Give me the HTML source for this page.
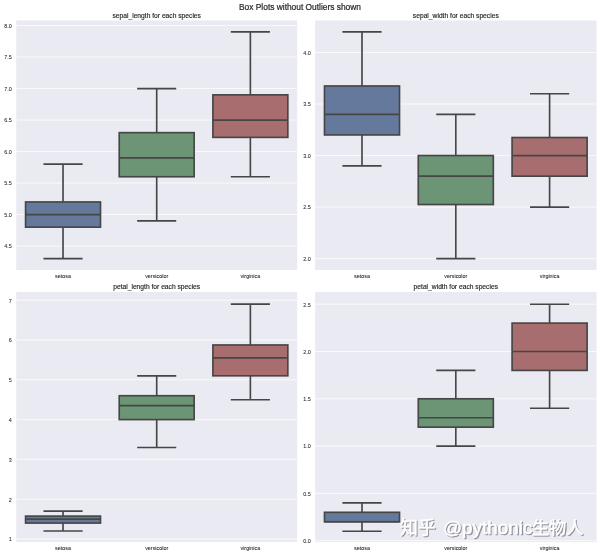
<!DOCTYPE html>
<html lang="en"><head><meta charset="utf-8"><title>Box Plots without Outliers shown</title>
<style>html,body{margin:0;padding:0;background:#fff;}svg{display:block;}</style></head>
<body>
<svg width="600" height="555" viewBox="0 0 600 555" font-family="'Liberation Sans', 'Noto Sans CJK SC', sans-serif">
<rect width="600" height="555" fill="#ffffff"/>
<text x="300" y="10" font-size="8.4" text-anchor="middle" fill="#262626" stroke="#262626" stroke-width="0.2">Box Plots without Outliers shown</text>
<g>
<rect x="16.20" y="20.50" width="281.00" height="249.50" fill="#eaeaf2"/>
<line x1="16.20" x2="297.20" y1="246.06" y2="246.06" stroke="#ffffff" stroke-width="0.75"/>
<text x="11.80" y="248.36" font-size="5.4" text-anchor="end" fill="#2a2a2a" stroke="#2a2a2a" stroke-width="0.07">4.5</text>
<line x1="16.20" x2="297.20" y1="214.56" y2="214.56" stroke="#ffffff" stroke-width="0.75"/>
<text x="11.80" y="216.86" font-size="5.4" text-anchor="end" fill="#2a2a2a" stroke="#2a2a2a" stroke-width="0.07">5.0</text>
<line x1="16.20" x2="297.20" y1="183.05" y2="183.05" stroke="#ffffff" stroke-width="0.75"/>
<text x="11.80" y="185.35" font-size="5.4" text-anchor="end" fill="#2a2a2a" stroke="#2a2a2a" stroke-width="0.07">5.5</text>
<line x1="16.20" x2="297.20" y1="151.55" y2="151.55" stroke="#ffffff" stroke-width="0.75"/>
<text x="11.80" y="153.85" font-size="5.4" text-anchor="end" fill="#2a2a2a" stroke="#2a2a2a" stroke-width="0.07">6.0</text>
<line x1="16.20" x2="297.20" y1="120.05" y2="120.05" stroke="#ffffff" stroke-width="0.75"/>
<text x="11.80" y="122.35" font-size="5.4" text-anchor="end" fill="#2a2a2a" stroke="#2a2a2a" stroke-width="0.07">6.5</text>
<line x1="16.20" x2="297.20" y1="88.55" y2="88.55" stroke="#ffffff" stroke-width="0.75"/>
<text x="11.80" y="90.85" font-size="5.4" text-anchor="end" fill="#2a2a2a" stroke="#2a2a2a" stroke-width="0.07">7.0</text>
<line x1="16.20" x2="297.20" y1="57.04" y2="57.04" stroke="#ffffff" stroke-width="0.75"/>
<text x="11.80" y="59.34" font-size="5.4" text-anchor="end" fill="#2a2a2a" stroke="#2a2a2a" stroke-width="0.07">7.5</text>
<line x1="16.20" x2="297.20" y1="25.54" y2="25.54" stroke="#ffffff" stroke-width="0.75"/>
<text x="11.80" y="27.84" font-size="5.4" text-anchor="end" fill="#2a2a2a" stroke="#2a2a2a" stroke-width="0.07">8.0</text>
<text x="156.70" y="17.90" font-size="6.7" text-anchor="middle" fill="#262626" stroke="#262626" stroke-width="0.15">sepal_length for each species</text>
<g stroke="#464646" stroke-width="1.65" fill="none">
<line x1="63.03" x2="63.03" y1="201.95" y2="164.15"/>
<line x1="63.03" x2="63.03" y1="227.16" y2="258.66"/>
<line x1="44.30" x2="81.77" y1="164.15" y2="164.15" stroke-linecap="square"/>
<line x1="44.30" x2="81.77" y1="258.66" y2="258.66" stroke-linecap="square"/>
<rect x="25.57" y="201.95" width="74.93" height="25.20" fill="#64799c"/>
<line x1="25.57" x2="100.50" y1="214.56" y2="214.56"/>
</g>
<text x="63.03" y="278.30" font-size="5.4" text-anchor="middle" fill="#2a2a2a" stroke="#2a2a2a" stroke-width="0.07">setosa</text>
<g stroke="#464646" stroke-width="1.65" fill="none">
<line x1="156.70" x2="156.70" y1="132.65" y2="88.55"/>
<line x1="156.70" x2="156.70" y1="176.75" y2="220.86"/>
<line x1="137.97" x2="175.43" y1="88.55" y2="88.55" stroke-linecap="square"/>
<line x1="137.97" x2="175.43" y1="220.86" y2="220.86" stroke-linecap="square"/>
<rect x="119.23" y="132.65" width="74.93" height="44.10" fill="#6b9575"/>
<line x1="119.23" x2="194.17" y1="157.85" y2="157.85"/>
</g>
<text x="156.70" y="278.30" font-size="5.4" text-anchor="middle" fill="#2a2a2a" stroke="#2a2a2a" stroke-width="0.07">versicolor</text>
<g stroke="#464646" stroke-width="1.65" fill="none">
<line x1="250.37" x2="250.37" y1="94.85" y2="31.84"/>
<line x1="250.37" x2="250.37" y1="137.37" y2="176.75"/>
<line x1="231.63" x2="269.10" y1="31.84" y2="31.84" stroke-linecap="square"/>
<line x1="231.63" x2="269.10" y1="176.75" y2="176.75" stroke-linecap="square"/>
<rect x="212.90" y="94.85" width="74.93" height="42.53" fill="#a86d6e"/>
<line x1="212.90" x2="287.83" y1="120.05" y2="120.05"/>
</g>
<text x="250.37" y="278.30" font-size="5.4" text-anchor="middle" fill="#2a2a2a" stroke="#2a2a2a" stroke-width="0.07">virginica</text>
</g>
<g>
<rect x="315.10" y="20.50" width="281.40" height="249.50" fill="#eaeaf2"/>
<line x1="315.10" x2="596.50" y1="258.66" y2="258.66" stroke="#ffffff" stroke-width="0.75"/>
<text x="310.70" y="260.96" font-size="5.4" text-anchor="end" fill="#2a2a2a" stroke="#2a2a2a" stroke-width="0.07">2.0</text>
<line x1="315.10" x2="596.50" y1="207.11" y2="207.11" stroke="#ffffff" stroke-width="0.75"/>
<text x="310.70" y="209.41" font-size="5.4" text-anchor="end" fill="#2a2a2a" stroke="#2a2a2a" stroke-width="0.07">2.5</text>
<line x1="315.10" x2="596.50" y1="155.56" y2="155.56" stroke="#ffffff" stroke-width="0.75"/>
<text x="310.70" y="157.86" font-size="5.4" text-anchor="end" fill="#2a2a2a" stroke="#2a2a2a" stroke-width="0.07">3.0</text>
<line x1="315.10" x2="596.50" y1="104.01" y2="104.01" stroke="#ffffff" stroke-width="0.75"/>
<text x="310.70" y="106.31" font-size="5.4" text-anchor="end" fill="#2a2a2a" stroke="#2a2a2a" stroke-width="0.07">3.5</text>
<line x1="315.10" x2="596.50" y1="52.46" y2="52.46" stroke="#ffffff" stroke-width="0.75"/>
<text x="310.70" y="54.76" font-size="5.4" text-anchor="end" fill="#2a2a2a" stroke="#2a2a2a" stroke-width="0.07">4.0</text>
<text x="455.80" y="17.90" font-size="6.7" text-anchor="middle" fill="#262626" stroke="#262626" stroke-width="0.15">sepal_width for each species</text>
<g stroke="#464646" stroke-width="1.65" fill="none">
<line x1="362.00" x2="362.00" y1="85.97" y2="31.84"/>
<line x1="362.00" x2="362.00" y1="134.94" y2="165.87"/>
<line x1="343.24" x2="380.76" y1="31.84" y2="31.84" stroke-linecap="square"/>
<line x1="343.24" x2="380.76" y1="165.87" y2="165.87" stroke-linecap="square"/>
<rect x="324.48" y="85.97" width="75.04" height="48.97" fill="#64799c"/>
<line x1="324.48" x2="399.52" y1="114.32" y2="114.32"/>
</g>
<text x="362.00" y="278.30" font-size="5.4" text-anchor="middle" fill="#2a2a2a" stroke="#2a2a2a" stroke-width="0.07">setosa</text>
<g stroke="#464646" stroke-width="1.65" fill="none">
<line x1="455.80" x2="455.80" y1="155.56" y2="114.32"/>
<line x1="455.80" x2="455.80" y1="204.53" y2="258.66"/>
<line x1="437.04" x2="474.56" y1="114.32" y2="114.32" stroke-linecap="square"/>
<line x1="437.04" x2="474.56" y1="258.66" y2="258.66" stroke-linecap="square"/>
<rect x="418.28" y="155.56" width="75.04" height="48.97" fill="#6b9575"/>
<line x1="418.28" x2="493.32" y1="176.18" y2="176.18"/>
</g>
<text x="455.80" y="278.30" font-size="5.4" text-anchor="middle" fill="#2a2a2a" stroke="#2a2a2a" stroke-width="0.07">versicolor</text>
<g stroke="#464646" stroke-width="1.65" fill="none">
<line x1="549.60" x2="549.60" y1="137.52" y2="93.70"/>
<line x1="549.60" x2="549.60" y1="176.18" y2="207.11"/>
<line x1="530.84" x2="568.36" y1="93.70" y2="93.70" stroke-linecap="square"/>
<line x1="530.84" x2="568.36" y1="207.11" y2="207.11" stroke-linecap="square"/>
<rect x="512.08" y="137.52" width="75.04" height="38.66" fill="#a86d6e"/>
<line x1="512.08" x2="587.12" y1="155.56" y2="155.56"/>
</g>
<text x="549.60" y="278.30" font-size="5.4" text-anchor="middle" fill="#2a2a2a" stroke="#2a2a2a" stroke-width="0.07">virginica</text>
</g>
<g>
<rect x="16.20" y="292.00" width="281.00" height="250.10" fill="#eaeaf2"/>
<line x1="16.20" x2="297.20" y1="539.00" y2="539.00" stroke="#ffffff" stroke-width="0.75"/>
<text x="11.80" y="541.30" font-size="5.4" text-anchor="end" fill="#2a2a2a" stroke="#2a2a2a" stroke-width="0.07">1</text>
<line x1="16.20" x2="297.20" y1="499.20" y2="499.20" stroke="#ffffff" stroke-width="0.75"/>
<text x="11.80" y="501.50" font-size="5.4" text-anchor="end" fill="#2a2a2a" stroke="#2a2a2a" stroke-width="0.07">2</text>
<line x1="16.20" x2="297.20" y1="459.40" y2="459.40" stroke="#ffffff" stroke-width="0.75"/>
<text x="11.80" y="461.70" font-size="5.4" text-anchor="end" fill="#2a2a2a" stroke="#2a2a2a" stroke-width="0.07">3</text>
<line x1="16.20" x2="297.20" y1="419.60" y2="419.60" stroke="#ffffff" stroke-width="0.75"/>
<text x="11.80" y="421.90" font-size="5.4" text-anchor="end" fill="#2a2a2a" stroke="#2a2a2a" stroke-width="0.07">4</text>
<line x1="16.20" x2="297.20" y1="379.80" y2="379.80" stroke="#ffffff" stroke-width="0.75"/>
<text x="11.80" y="382.10" font-size="5.4" text-anchor="end" fill="#2a2a2a" stroke="#2a2a2a" stroke-width="0.07">5</text>
<line x1="16.20" x2="297.20" y1="340.00" y2="340.00" stroke="#ffffff" stroke-width="0.75"/>
<text x="11.80" y="342.30" font-size="5.4" text-anchor="end" fill="#2a2a2a" stroke="#2a2a2a" stroke-width="0.07">6</text>
<line x1="16.20" x2="297.20" y1="300.20" y2="300.20" stroke="#ffffff" stroke-width="0.75"/>
<text x="11.80" y="302.50" font-size="5.4" text-anchor="end" fill="#2a2a2a" stroke="#2a2a2a" stroke-width="0.07">7</text>
<text x="156.70" y="289.40" font-size="6.7" text-anchor="middle" fill="#262626" stroke="#262626" stroke-width="0.15">petal_length for each species</text>
<g stroke="#464646" stroke-width="1.65" fill="none">
<line x1="63.03" x2="63.03" y1="516.11" y2="511.14"/>
<line x1="63.03" x2="63.03" y1="523.08" y2="531.04"/>
<line x1="44.30" x2="81.77" y1="511.14" y2="511.14" stroke-linecap="square"/>
<line x1="44.30" x2="81.77" y1="531.04" y2="531.04" stroke-linecap="square"/>
<rect x="25.57" y="516.11" width="74.93" height="6.96" fill="#64799c"/>
<line x1="25.57" x2="100.50" y1="519.10" y2="519.10"/>
</g>
<text x="63.03" y="549.80" font-size="5.4" text-anchor="middle" fill="#2a2a2a" stroke="#2a2a2a" stroke-width="0.07">setosa</text>
<g stroke="#464646" stroke-width="1.65" fill="none">
<line x1="156.70" x2="156.70" y1="395.72" y2="375.82"/>
<line x1="156.70" x2="156.70" y1="419.60" y2="447.46"/>
<line x1="137.97" x2="175.43" y1="375.82" y2="375.82" stroke-linecap="square"/>
<line x1="137.97" x2="175.43" y1="447.46" y2="447.46" stroke-linecap="square"/>
<rect x="119.23" y="395.72" width="74.93" height="23.88" fill="#6b9575"/>
<line x1="119.23" x2="194.17" y1="405.67" y2="405.67"/>
</g>
<text x="156.70" y="549.80" font-size="5.4" text-anchor="middle" fill="#2a2a2a" stroke="#2a2a2a" stroke-width="0.07">versicolor</text>
<g stroke="#464646" stroke-width="1.65" fill="none">
<line x1="250.37" x2="250.37" y1="344.97" y2="304.18"/>
<line x1="250.37" x2="250.37" y1="375.82" y2="399.70"/>
<line x1="231.63" x2="269.10" y1="304.18" y2="304.18" stroke-linecap="square"/>
<line x1="231.63" x2="269.10" y1="399.70" y2="399.70" stroke-linecap="square"/>
<rect x="212.90" y="344.97" width="74.93" height="30.84" fill="#a86d6e"/>
<line x1="212.90" x2="287.83" y1="357.91" y2="357.91"/>
</g>
<text x="250.37" y="549.80" font-size="5.4" text-anchor="middle" fill="#2a2a2a" stroke="#2a2a2a" stroke-width="0.07">virginica</text>
</g>
<g>
<rect x="315.10" y="292.00" width="281.40" height="250.10" fill="#eaeaf2"/>
<line x1="315.10" x2="596.50" y1="540.68" y2="540.68" stroke="#ffffff" stroke-width="0.75"/>
<text x="310.70" y="542.98" font-size="5.4" text-anchor="end" fill="#2a2a2a" stroke="#2a2a2a" stroke-width="0.07">0.0</text>
<line x1="315.10" x2="596.50" y1="493.39" y2="493.39" stroke="#ffffff" stroke-width="0.75"/>
<text x="310.70" y="495.69" font-size="5.4" text-anchor="end" fill="#2a2a2a" stroke="#2a2a2a" stroke-width="0.07">0.5</text>
<line x1="315.10" x2="596.50" y1="446.09" y2="446.09" stroke="#ffffff" stroke-width="0.75"/>
<text x="310.70" y="448.39" font-size="5.4" text-anchor="end" fill="#2a2a2a" stroke="#2a2a2a" stroke-width="0.07">1.0</text>
<line x1="315.10" x2="596.50" y1="398.79" y2="398.79" stroke="#ffffff" stroke-width="0.75"/>
<text x="310.70" y="401.09" font-size="5.4" text-anchor="end" fill="#2a2a2a" stroke="#2a2a2a" stroke-width="0.07">1.5</text>
<line x1="315.10" x2="596.50" y1="351.50" y2="351.50" stroke="#ffffff" stroke-width="0.75"/>
<text x="310.70" y="353.80" font-size="5.4" text-anchor="end" fill="#2a2a2a" stroke="#2a2a2a" stroke-width="0.07">2.0</text>
<line x1="315.10" x2="596.50" y1="304.20" y2="304.20" stroke="#ffffff" stroke-width="0.75"/>
<text x="310.70" y="306.50" font-size="5.4" text-anchor="end" fill="#2a2a2a" stroke="#2a2a2a" stroke-width="0.07">2.5</text>
<text x="455.80" y="289.40" font-size="6.7" text-anchor="middle" fill="#262626" stroke="#262626" stroke-width="0.15">petal_width for each species</text>
<g stroke="#464646" stroke-width="1.65" fill="none">
<line x1="362.00" x2="362.00" y1="512.30" y2="502.84"/>
<line x1="362.00" x2="362.00" y1="521.76" y2="531.22"/>
<line x1="343.24" x2="380.76" y1="502.84" y2="502.84" stroke-linecap="square"/>
<line x1="343.24" x2="380.76" y1="531.22" y2="531.22" stroke-linecap="square"/>
<rect x="324.48" y="512.30" width="75.04" height="9.46" fill="#64799c"/>
<line x1="324.48" x2="399.52" y1="521.76" y2="521.76"/>
</g>
<text x="362.00" y="549.80" font-size="5.4" text-anchor="middle" fill="#2a2a2a" stroke="#2a2a2a" stroke-width="0.07">setosa</text>
<g stroke="#464646" stroke-width="1.65" fill="none">
<line x1="455.80" x2="455.80" y1="398.79" y2="370.42"/>
<line x1="455.80" x2="455.80" y1="427.17" y2="446.09"/>
<line x1="437.04" x2="474.56" y1="370.42" y2="370.42" stroke-linecap="square"/>
<line x1="437.04" x2="474.56" y1="446.09" y2="446.09" stroke-linecap="square"/>
<rect x="418.28" y="398.79" width="75.04" height="28.38" fill="#6b9575"/>
<line x1="418.28" x2="493.32" y1="417.71" y2="417.71"/>
</g>
<text x="455.80" y="549.80" font-size="5.4" text-anchor="middle" fill="#2a2a2a" stroke="#2a2a2a" stroke-width="0.07">versicolor</text>
<g stroke="#464646" stroke-width="1.65" fill="none">
<line x1="549.60" x2="549.60" y1="323.12" y2="304.20"/>
<line x1="549.60" x2="549.60" y1="370.42" y2="408.25"/>
<line x1="530.84" x2="568.36" y1="304.20" y2="304.20" stroke-linecap="square"/>
<line x1="530.84" x2="568.36" y1="408.25" y2="408.25" stroke-linecap="square"/>
<rect x="512.08" y="323.12" width="75.04" height="47.30" fill="#a86d6e"/>
<line x1="512.08" x2="587.12" y1="351.50" y2="351.50"/>
</g>
<text x="549.60" y="549.80" font-size="5.4" text-anchor="middle" fill="#2a2a2a" stroke="#2a2a2a" stroke-width="0.07">virginica</text>
</g>
<g fill="#80808a" fill-opacity="0.8" stroke="#80808a" stroke-opacity="0.8" stroke-width="0.45" transform="translate(1.1,1.1)">
<text x="400.0" y="533.8" font-size="17.9">知乎</text>
<text x="442.9" y="533.8" font-size="18.9">@pythonic</text>
<text x="531.9" y="533.7" font-size="17.2">生物人</text>
</g>
<g fill="#ffffff" fill-opacity="1" stroke="#ffffff" stroke-opacity="1" stroke-width="0.45" transform="translate(0,0)">
<text x="400.0" y="533.8" font-size="17.9">知乎</text>
<text x="442.9" y="533.8" font-size="18.9">@pythonic</text>
<text x="531.9" y="533.7" font-size="17.2">生物人</text>
</g>
</svg>
</body></html>
